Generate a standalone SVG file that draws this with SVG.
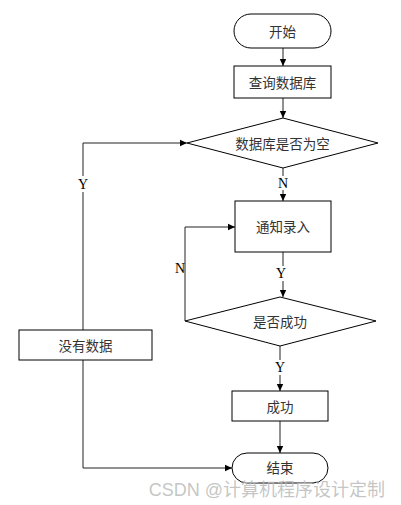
<svg xmlns="http://www.w3.org/2000/svg" width="401" height="505" viewBox="0 0 401 505">
<style>
.shape{fill:#fff;stroke:#000;stroke-width:1}
.lbl{font-family:"Noto Sans CJK SC",sans-serif;font-size:13.5px;fill:#333;text-anchor:middle;dominant-baseline:central}
.yn{font-family:"Liberation Serif",serif;font-size:14px;fill:#000;text-anchor:middle;dominant-baseline:central}
.conn{fill:none;stroke:#222;stroke-width:1}
</style>
<defs>
<marker id="ah" markerWidth="8" markerHeight="8" refX="7" refY="4" orient="auto" markerUnits="userSpaceOnUse">
<path d="M0,0.8 L7,4 L0,7.2 Z" fill="#000"/>
</marker>
</defs>
<rect width="401" height="505" fill="#fff"/>
<g id="connectors">
<line class="conn" x1="283" y1="48" x2="283" y2="66" marker-end="url(#ah)"/>
<line class="conn" x1="283" y1="98" x2="283" y2="118" marker-end="url(#ah)"/>
<polyline class="conn" points="283,168 283,176"/>
<line class="conn" x1="283" y1="190" x2="283" y2="201" marker-end="url(#ah)"/>
<polyline class="conn" points="283,252 283,266"/>
<line class="conn" x1="283" y1="281" x2="283" y2="297" marker-end="url(#ah)"/>
<polyline class="conn" points="185,321 185,227 235,227" marker-end="url(#ah)"/>
<polyline class="conn" points="280,346 280,360"/>
<line class="conn" x1="280" y1="375" x2="280" y2="391" marker-end="url(#ah)"/>
<line class="conn" x1="280" y1="421" x2="280" y2="453" marker-end="url(#ah)"/>
<polyline class="conn" points="83,192 83,468 232,468" marker-end="url(#ah)"/>
<polyline class="conn" points="83,176 83,143 187,143" marker-end="url(#ah)"/>
<text class="yn" x="283" y="183">N</text>
<text class="yn" x="281" y="273">Y</text>
<text class="yn" x="180" y="268">N</text>
<text class="yn" x="280" y="367">Y</text>
<text class="yn" x="83" y="184">Y</text>
</g>
<g id="start">
<rect class="shape" x="234" y="14" width="97" height="34" rx="17"/>
<text class="lbl" x="282.5" y="31">开始</text>
</g>
<g id="query">
<rect class="shape" x="234" y="66" width="97" height="32"/>
<text class="lbl" x="282.5" y="82">查询数据库</text>
</g>
<g id="isEmpty">
<polygon class="shape" points="283,118 378,143 283,168 187,143"/>
<text class="lbl" x="282.5" y="143">数据库是否为空</text>
</g>
<g id="notify">
<rect class="shape" x="235" y="201" width="96" height="51"/>
<text class="lbl" x="283" y="226">通知录入</text>
</g>
<g id="isSuccess">
<polygon class="shape" points="280,297 376,321 280,346 185,321"/>
<text class="lbl" x="280" y="321">是否成功</text>
</g>
<g id="success">
<rect class="shape" x="232" y="391" width="96" height="30"/>
<text class="lbl" x="280" y="406">成功</text>
</g>
<g id="end">
<rect class="shape" x="232" y="453" width="96" height="30" rx="15"/>
<text class="lbl" x="280" y="467">结束</text>
</g>
<g id="noData">
<rect class="shape" x="19" y="330" width="133" height="30"/>
<text class="lbl" x="85.5" y="345">没有数据</text>
</g>
<text x="385" y="496" font-family="Liberation Sans,'Noto Sans CJK SC',sans-serif" font-size="18" fill="#bbb" fill-opacity="0.85" text-anchor="end">CSDN @计算机程序设计定制</text>
</svg>
